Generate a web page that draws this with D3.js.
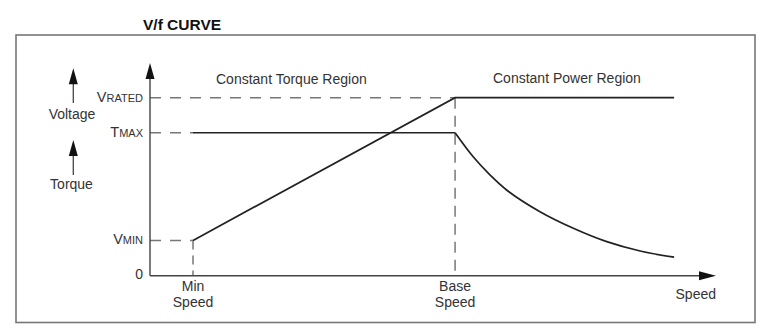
<!DOCTYPE html>
<html><head><meta charset="utf-8">
<script src="https://cdn.jsdelivr.net/npm/d3@7"></script>
<style>body{margin:0;background:#fff}svg{display:block}text{font-family:Arial,"Liberation Sans",sans-serif}</style>
</head><body><svg id="c" width="780" height="334"></svg>
<script>
// data (speed and magnitude units, 0..100)
const speedMarks = [{label:["Min","Speed"], v:7.6},{label:["Base","Speed"], v:53.9}];
const levels = {vRated:83.7, tMax:67.2, vMin:16.6};
const voltageX = [7.6, 53.9, 92.6];
const voltageY = [16.6, 83.7, 83.7];
const torqueX = [7.6, 53.9, 57.1, 60.1, 63.0, 68.9, 74.8, 80.7, 86.6, 92.6];
const torqueY = [67.2, 67.2, 55.9, 47.3, 40.3, 30.1, 22.3, 16.0, 11.6, 8.7];
const regions = ["Constant Torque Region","Constant Power Region"];

const svg = d3.select("#c");
const x = d3.scaleLinear().domain([0,100]).range([150,716]);
const y = d3.scaleLinear().domain([0,100]).range([275.7,63]);

// frame
svg.append("rect").attr("x",16).attr("y",35).attr("width",739).attr("height",287.5)
  .attr("fill","none").attr("stroke","#777").attr("stroke-width",1.6);
svg.append("text").attr("x",143).attr("y",29.5).attr("font-weight","bold").attr("font-size",15.5).attr("fill","#111").text("V/f CURVE");

const dash = "11,9", dcol = "#777";
// dashed guides
svg.append("line").attr("x1",x(0)).attr("x2",x(53.9)).attr("y1",y(levels.vRated)).attr("y2",y(levels.vRated)).attr("stroke",dcol).attr("stroke-width",1.5).attr("stroke-dasharray",dash);
svg.append("line").attr("x1",x(0)).attr("x2",x(7.6)).attr("y1",y(levels.tMax)).attr("y2",y(levels.tMax)).attr("stroke",dcol).attr("stroke-width",1.5).attr("stroke-dasharray",dash);
svg.append("line").attr("x1",x(0)).attr("x2",x(7.6)).attr("y1",y(levels.vMin)).attr("y2",y(levels.vMin)).attr("stroke",dcol).attr("stroke-width",1.5).attr("stroke-dasharray",dash);
svg.append("line").attr("x1",x(7.6)).attr("x2",x(7.6)).attr("y1",y(levels.vMin)).attr("y2",y(0)).attr("stroke",dcol).attr("stroke-width",1.5).attr("stroke-dasharray","9,6");
svg.append("line").attr("x1",x(53.9)).attr("x2",x(53.9)).attr("y1",y(levels.vRated)).attr("y2",y(0)).attr("stroke",dcol).attr("stroke-width",1.5).attr("stroke-dasharray","11,7");

// axes
svg.append("line").attr("x1",x(0)).attr("x2",x(0)).attr("y1",y(0)).attr("y2",y(93)).attr("stroke","#444").attr("stroke-width",1.4);
svg.append("line").attr("x1",x(0)).attr("x2",x(97)).attr("y1",y(0)).attr("y2",y(0)).attr("stroke","#444").attr("stroke-width",1.4);
svg.append("path").attr("d",`M${x(0)},${y(100)} L${x(0)-4.5},${y(100)+16} L${x(0)+4.5},${y(100)+16} Z`).attr("fill","#111");
svg.append("path").attr("d",`M${x(100)},${y(0)} L${x(100)-17},${y(0)-4.5} L${x(100)-17},${y(0)+4.5} Z`).attr("fill","#111");

// curves
const line = d3.line().x(d=>x(d[0])).y(d=>y(d[1]));
svg.append("path").attr("d",line(voltageX.map((v,i)=>[v,voltageY[i]]))).attr("fill","none").attr("stroke","#222").attr("stroke-width",1.7);
const tpts = torqueX.map((v,i)=>[v,torqueY[i]]);
svg.append("path").attr("d",line(tpts.slice(0,2))).attr("fill","none").attr("stroke","#222").attr("stroke-width",1.7);
const cline = d3.line().x(d=>x(d[0])).y(d=>y(d[1])).curve(d3.curveCatmullRom.alpha(0.5));
svg.append("path").attr("d",cline(tpts.slice(1))).attr("fill","none").attr("stroke","#222").attr("stroke-width",1.7);

const tc = "#333";
// region labels
svg.append("text").attr("x",216).attr("y",83.5).attr("font-size",14).attr("fill",tc).text(regions[0]);
svg.append("text").attr("x",493).attr("y",83).attr("font-size",14).attr("fill",tc).text(regions[1]);

// y labels with small caps style
function lab(big, small, yy){
  const t = svg.append("text").attr("x",143).attr("y",yy).attr("text-anchor","end").attr("fill",tc);
  t.append("tspan").attr("font-size",14.5).text(big);
  t.append("tspan").attr("font-size",11).text(small);
}
lab("V","RATED",y(levels.vRated)+4.5);
lab("T","MAX",y(levels.tMax)+4.5);
lab("V","MIN",y(levels.vMin)+4);
svg.append("text").attr("x",143).attr("y",y(0)+3.5).attr("text-anchor","end").attr("font-size",14).attr("fill",tc).text("0");

// speed labels
speedMarks.forEach(m=>{
  m.label.forEach((s,i)=>svg.append("text").attr("x",x(m.v)).attr("y",291+i*15.5).attr("text-anchor","middle").attr("font-size",14).attr("fill",tc).text(s));
});
svg.append("text").attr("x",716).attr("y",298.5).attr("text-anchor","end").attr("font-size",14).attr("fill",tc).text("Speed");

// left legend arrows
function arrow(xx, tip, bottom){
  svg.append("line").attr("x1",xx).attr("x2",xx).attr("y1",tip+10).attr("y2",bottom).attr("stroke","#444").attr("stroke-width",1.3);
  svg.append("path").attr("d",`M${xx},${tip} L${xx-4.5},${tip+16} L${xx+4.5},${tip+16} Z`).attr("fill","#111");
}
arrow(73.3,68.3,103);
arrow(73.3,140,175);
svg.append("text").attr("x",72).attr("y",118.5).attr("text-anchor","middle").attr("font-size",14).attr("fill",tc).text("Voltage");
svg.append("text").attr("x",71.5).attr("y",189).attr("text-anchor","middle").attr("font-size",14).attr("fill",tc).text("Torque");
</script></body></html>
